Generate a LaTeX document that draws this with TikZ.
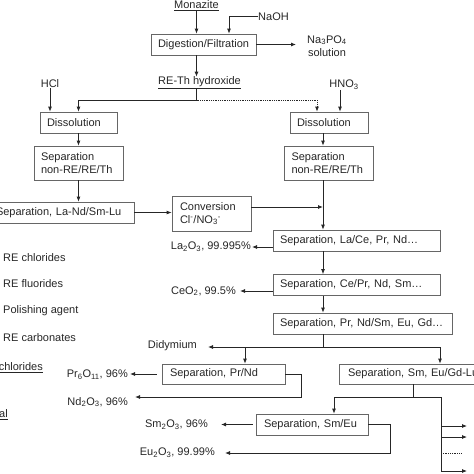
\documentclass[tikz,border=0pt]{standalone}
\usepackage{fontspec}
\setmainfont{Liberation Sans}
\usetikzlibrary{arrows.meta,calc}
\begin{document}
\begin{tikzpicture}[x=1pt,y=-1pt,
  every node/.style={font=\fontsize{11}{13}\selectfont, text=black!85},
  box/.style={draw=black!60, line width=0.8pt, inner xsep=7pt, inner ysep=0pt, align=left, minimum height=21pt},
  lbl/.style={inner sep=0pt},
  ln/.style={draw=black!85, line width=0.8pt},
  arr/.style={ln, -{Latex[length=5pt,width=4pt]}}]
\clip (0,0) rectangle (474,474);
% boxes
\node[box, text width=91pt] (dig) at (203.5,44.5) {Digestion/Filtration};
\node[box, text width=63pt] (dissL) at (78.5,122.5) {Dissolution};
\node[box, text width=64pt] (dissR) at (329,122.5) {Dissolution};
\node[box, text width=75pt, minimum height=34pt] (sepL) at (78.5,163) {Separation\\non-RE/RE/Th};
\node[box, text width=75pt, minimum height=34pt] (sepR) at (329,163) {Separation\\non-RE/RE/Th};
\node[box, text width=131pt] (laNd) at (61.5,212.5) {Separation, La-Nd/Sm-Lu};
\node[box, text width=63pt, inner xsep=8pt, minimum height=35pt] (conv) at (211.5,213.5) {Conversion\\Cl\textsuperscript{-}/NO\textsubscript{3}\textsuperscript{-}};
\node[box, text width=153pt] (laCe) at (356.5,240.5) {Separation, La/Ce, Pr, Nd\ldots};
\node[box, text width=153pt] (cePr) at (356.5,285) {Separation, Ce/Pr, Nd, Sm\ldots};
\node[box, text width=165pt] (prNd) at (362.5,323.5) {Separation, Pr, Nd/Sm, Eu, Gd\ldots};
\node[box, text width=107pt, inner xsep=8pt, minimum height=20pt] (prnd) at (223.5,374) {Separation, Pr/Nd};
\node[box, text width=131pt, inner xsep=9pt, minimum height=20pt] (smgd) at (413.5,374) {Separation, Sm, Eu/Gd-Lu};
\node[box, text width=96pt, inner xsep=8pt] (smeu) at (312,424.5) {Separation, Sm/Eu};
% labels
\node[lbl] (mon) at (196.5,6) {\underline{Monazite}};
\node[lbl, anchor=west] (naoh) at (258,16.5) {NaOH};
\node[lbl, align=center] (na3) at (327,46) {Na\textsubscript{3}PO\textsubscript{4}\\solution};
\node[lbl] (reth) at (199.5,83) {\underline{RE-Th hydroxide}};
\node[lbl] (hcl) at (50,84) {HCl};
\node[lbl] (hno3) at (344,85) {HNO\textsubscript{3}};
\node[lbl, anchor=east] (la2o3) at (251,247) {La\textsubscript{2}O\textsubscript{3}, 99.995\%};
\node[lbl, anchor=east] (ceo2) at (236,291) {CeO\textsubscript{2}, 99.5\%};
\node[lbl, anchor=west] (rechl) at (3,258) {RE chlorides};
\node[lbl, anchor=west] (refl) at (3,284) {RE fluorides};
\node[lbl, anchor=west] (pol) at (3,311) {Polishing agent};
\node[lbl, anchor=west] (recarb) at (3,338) {RE carbonates};
\node[lbl, anchor=east] (chl) at (43,368) {\underline{chlorides}};
\node[lbl, anchor=east] (al) at (8,415) {\underline{al}};
\node[lbl, anchor=east] (didy) at (197,346) {Didymium};
\node[lbl, anchor=east] (pr6) at (128,375) {Pr\textsubscript{6}O\textsubscript{11}, 96\%};
\node[lbl, anchor=east] (nd2) at (128,402) {Nd\textsubscript{2}O\textsubscript{3}, 96\%};
\node[lbl, anchor=east] (sm2) at (208,425) {Sm\textsubscript{2}O\textsubscript{3}, 96\%};
\node[lbl, anchor=east] (eu2) at (215,453) {Eu\textsubscript{2}O\textsubscript{3}, 99.99\%};
% helper coordinates
\coordinate (spine) at (323,0);
\coordinate (naohc) at (229,0);
\coordinate (split1) at (196.5,100);
\coordinate (dotin) at (317,0);
\coordinate (hnoin) at (340,0);
\coordinate (split2) at (323,347);
\coordinate (prndin) at (245,0);
\coordinate (smgdin) at (440,0);
\coordinate (ndturn) at (301,397);
\coordinate (split3) at (413,397);
\coordinate (smeuin) at (334,0);
\coordinate (bus) at (441,397);
\coordinate (busend) at (441,471);
\coordinate (o1) at (467,426);
\coordinate (o2) at (467,437);
\coordinate (o3) at (462,453);
\coordinate (o4) at (467,471);
\coordinate (euturn) at (390,453);
% connectors
\draw[arr] (mon.south) -- (mon.south |- dig.north);
\draw[arr] (naoh.west) -| (naohc |- dig.north);
\draw[arr, shorten >=11pt] (dig.east) -- (dig.east -| na3.west);
\draw[arr] (mon.south |- dig.south) -- (mon.south |- reth.north);
\draw[ln] (reth.south -| split1) -- (split1);
\draw[arr] (split1) -| (dissL.north);
\draw[arr, densely dotted] (split1) -| (dotin |- dissR.north);
\draw[arr] (hcl.south) -- (hcl.south |- dissL.north);
\draw[arr] (hnoin |- hno3.south) -- (hnoin |- dissR.north);
\draw[arr] (dissL.south) -- (sepL.north);
\draw[arr] (spine |- dissR.south) -- (spine |- sepR.north);
\draw[arr] (sepL.south) -- (sepL.south |- laNd.north);
\draw[arr] (laNd.east) -- (laNd.east -| conv.west);
\coordinate (convout) at ($(conv.east)+(0,-6.5)$);
\draw[arr] (convout) -- (convout -| spine);
\draw[arr] (spine |- sepR.south) -- (spine |- laCe.north);
\draw[arr, shorten >=1pt] (laCe.west |- la2o3.east) -- (la2o3.east);
\draw[arr] (spine |- laCe.south) -- (spine |- cePr.north);
\coordinate (ceout) at ($(cePr.west)+(0,6)$);
\draw[arr, shorten >=4pt] (ceout) -- (ceout -| ceo2.east);
\draw[arr] (spine |- cePr.south) -- (spine |- prNd.north);
\draw[ln] (spine |- prNd.south) -- (split2);
\draw[arr, shorten >=11pt] (split2) -- (split2 -| didy.east);
\draw[arr] (split2) -| (smgdin |- smgd.north);
\draw[arr] (split2 -| prndin) -- (prndin |- prnd.north);
\draw[arr, shorten <=5pt, shorten >=2pt] (prnd.west) -- (prnd.west -| pr6.east);
\draw[arr, shorten >=7pt] (prnd.east) -| (ndturn) -- (ndturn -| nd2.east);
\draw[ln] (split3 |- smgd.south) -- (split3);
\draw[arr] (split3) -| (smeuin |- smeu.north);
\draw[ln] (split3) -- (bus) -- (busend);
\draw[arr] (bus |- o1) -- (o1);
\draw[arr] (bus |- o2) -- (o2);
\draw[ln, densely dotted] (bus |- o3) -- (o3);
\draw[arr] (busend) -- (o4);
\draw[arr, shorten <=3pt, shorten >=13pt] (smeu.west) -- (smeu.west -| sm2.east);
\draw[arr, shorten >=10pt] (smeu.east) -| (euturn) -- (euturn -| eu2.east);
\end{tikzpicture}
\end{document}
